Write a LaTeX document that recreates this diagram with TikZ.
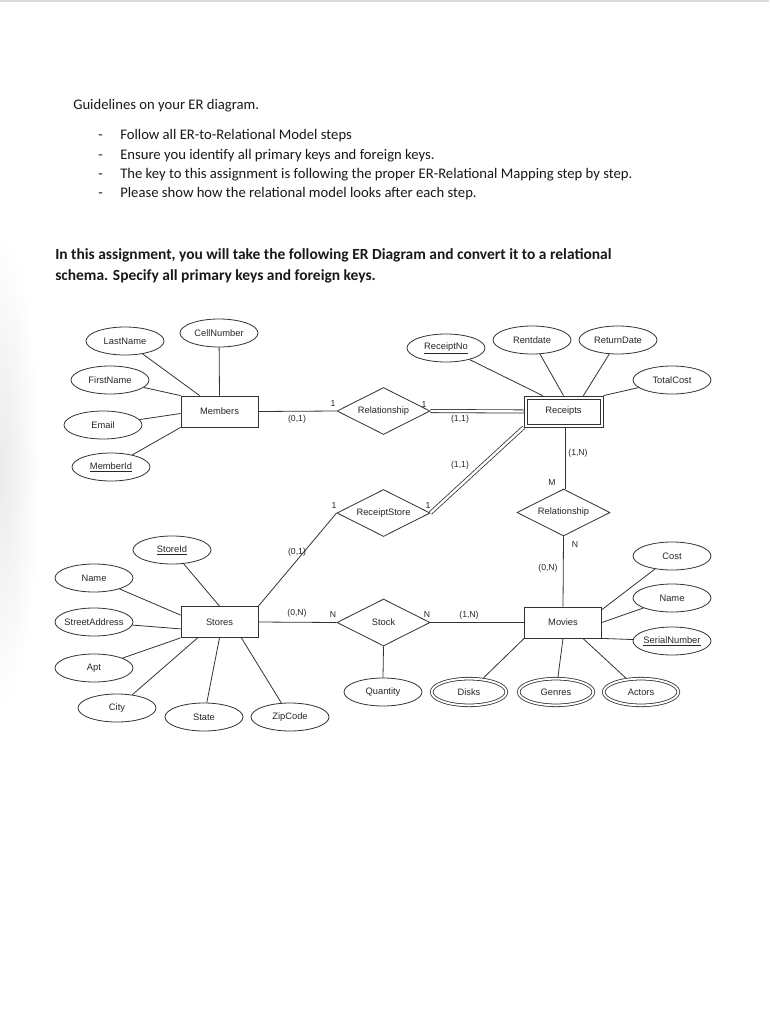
\documentclass[tikz,border=0pt]{standalone}
\usepackage{fontspec}
\setmainfont{Carlito}
\newfontfamily\arial{Liberation Sans}
\usetikzlibrary{shapes.geometric,calc,backgrounds}
\newcommand\zw[1]{\makebox[0pt]{#1}}
\begin{document}
\begin{tikzpicture}[x=0.75pt,y=-0.75pt,
 txt/.style={anchor=base west, inner sep=0, font=\fontsize{11}{13}\selectfont, text=black!90},
 btxt/.style={txt, font=\fontsize{11.6}{13}\selectfont\bfseries},
 er/.style={draw=black!80, line width=0.6pt, fill=white, inner sep=0, font=\arial\fontsize{7}{8}\selectfont, text=black!85},
 attr/.style={er, ellipse, minimum width=58.5pt, minimum height=21pt},
 mattr/.style={attr, double, double distance=1.4pt, minimum width=56pt, minimum height=20pt},
 ent/.style={er, rectangle, minimum width=57.75pt, minimum height=23.25pt},
 rel/.style={er, diamond, aspect=2, minimum width=69.75pt, minimum height=35.25pt},
 lbl/.style={inner sep=0, font=\arial\fontsize{6.5}{7}\selectfont, text=black!85},
 con/.style={draw=black!80, line width=0.6pt},
 dcon/.style={con, double, double distance=1.8pt},
]
\useasboundingbox (0,0) rectangle (769,1024);
\begin{scope}[on background layer]
\fill[white] (0,0) rectangle (769,1024);
\shade[inner color=black!8, outer color=white] (0,470) ellipse [x radius=40, y radius=240];
\draw[gray!30, line width=1pt] (0,1) -- (769,1);
\end{scope}

% ---- heading text
\node[txt] (g0) at (73,109) {Guidelines on your ER diagram.};
\node[txt] (d1) at (98,139) {-};
\node[txt] (t1) at (120,139) {Follow all ER-to-Relational Model steps};
\node[txt] (d2) at (98,159) {-};
\node[txt] (t2) at (120,159) {Ensure you identify all primary keys and foreign keys.};
\node[txt] (d3) at (98,178) {-};
\node[txt] (t3) at (120,178) {The key to this assignment is following the proper ER-Relational Mapping step by step.};
\node[txt] (d4) at (98,197) {-};
\node[txt] (t4) at (120,197) {Please show how the relational model looks after each step.};
\node[btxt] (b1) at (55,259) {In this assignment, you will take the following ER Diagram and convert it to a relational};
\node[btxt] (b2) at (55,280) {schema. Specify all primary keys and foreign keys.};

% ---- entities and relationships
\node[ent] (Members) at (219.5,411.5) {\zw{Members}};
\node[ent, minimum width=59.25pt] (Receipts) at (563.5,411.5) {\zw{Receipts}};
\draw[con] ($(Receipts.north west)+(3.5,3.5)$) rectangle ($(Receipts.south east)+(-3.5,-3.5)$);
\node[ent] (Stores) at (219.5,622) {\zw{Stores}};
\node[ent] (Movies) at (563,622.5) {\zw{Movies}};
\node[rel] (Rel1) at (383.5,411) {\zw{Relationship}};
\node[rel] (Rel2) at (563.5,512.5) {\zw{Relationship}};
\node[rel] (RS) at (383.5,513) {\zw{ReceiptStore}};
\node[rel] (Stock) at (383.5,622.5) {\zw{Stock}};

% ---- attributes
\node[attr] (LastName) at (125,341) {\zw{LastName}};
\node[attr] (CellNumber) at (219,333) {\zw{CellNumber}};
\node[attr] (FirstName) at (110,380) {\zw{FirstName}};
\node[attr] (Email) at (103,425) {\zw{Email}};
\node[attr] (MemberId) at (111,467) {\zw{\underline{MemberId}}};
\node[attr] (ReceiptNo) at (446,348) {\zw{\underline{ReceiptNo}}};
\node[attr] (Rentdate) at (532,340) {\zw{Rentdate}};
\node[attr] (ReturnDate) at (618,340) {\zw{ReturnDate}};
\node[attr] (TotalCost) at (672,380) {\zw{TotalCost}};
\node[attr] (Cost) at (672,556) {\zw{Cost}};
\node[attr] (MName) at (672,598) {\zw{Name}};
\node[attr] (SerialNumber) at (672,641) {\zw{\underline{SerialNumber}}};
\node[mattr] (Disks) at (469,692) {\zw{Disks}};
\node[mattr] (Genres) at (556,692) {\zw{Genres}};
\node[mattr] (Actors) at (641,692) {\zw{Actors}};
\node[attr] (Quantity) at (383,692) {\zw{Quantity}};
\node[attr] (StoreId) at (172,550) {\zw{\underline{StoreId}}};
\node[attr] (SName) at (94,578) {\zw{Name}};
\node[attr] (StreetAddress) at (94,622) {\zw{StreetAddress}};
\node[attr] (Apt) at (94,668) {\zw{Apt}};
\node[attr] (City) at (117,708) {\zw{City}};
\node[attr] (State) at (204,717) {\zw{State}};
\node[attr] (ZipCode) at (290,717) {\zw{ZipCode}};

% ---- connectors
\begin{scope}[on background layer]
\draw[con] (LastName) -- ($(Members.north west)+(19,0)$);
\draw[con] (CellNumber) -- (Members.north);
\draw[con] (FirstName) -- (Members.north west);
\draw[con] (Email) -- ($(Members.west)+(0,2)$);
\draw[con] (MemberId) -- (Members.south west);
\draw[con] (ReceiptNo) -- ($(Receipts.north west)+(19,0)$);
\draw[con] (Rentdate) -- (Receipts.north);
\draw[con] (ReturnDate) -- ($(Receipts.north east)+(-20,0)$);
\draw[con] (TotalCost) -- (Receipts.north east);
\draw[con] (Cost) -- ($(Movies.north east)+(0,3)$);
\draw[con] (MName) -- (Movies.east);
\draw[con] (SerialNumber) -- (Movies.south east);
\draw[con] (Disks) -- (Movies.south west);
\draw[con] (Genres) -- (Movies.south);
\draw[con] (Actors) -- ($(Movies.south east)+(-19,0)$);
\draw[con] (StoreId) -- (Stores.north);
\draw[con] (SName) -- ($(Stores.north west)+(0,9)$);
\draw[con] (StreetAddress) -- ($(Stores.south west)+(0,-9)$);
\draw[con] (Apt) -- (Stores.south west);
\draw[con] (City) -- ($(Stores.south west)+(17,0)$);
\draw[con] (State) -- (Stores.south);
\draw[con] (ZipCode) -- ($(Stores.south east)+(-17,0)$);
\draw[con] (Stock.south) -- (Quantity.north);
\draw[con] (Members.east) -- (Rel1.west);
\draw[dcon] (Rel1.east) -- (Receipts.west);
\draw[dcon] (Receipts.south) -- (Rel2.north);
\draw[con] (Rel2.south) -- (Movies.north);
\draw[dcon] (RS.east) -- (Receipts.south west);
\draw[con] (RS.west) -- (Stores.north east);
\draw[con] (Stores.east) -- (Stock.west);
\draw[con] (Stock.east) -- (Movies.west);
\end{scope}

% ---- cardinality labels
\node[lbl] (l1) at (333,404) {1};
\node[lbl] (l2) at (424,405) {1};
\node[lbl] (l3) at (297,419) {(0,1)};
\node[lbl] (l4) at (460,419) {(1,1)};
\node[lbl] (l5) at (578,453) {(1,N)};
\node[lbl] (l6) at (552,483) {M};
\node[lbl] (l7) at (575,545) {N};
\node[lbl] (l8) at (548,568) {(0,N)};
\node[lbl] (l9) at (460,465) {(1,1)};
\node[lbl] (l10) at (334,506) {1};
\node[lbl] (l11) at (428,506) {1};
\node[lbl] (l12) at (297,552) {(0,1)};
\node[lbl] (l13) at (297,613) {(0,N)};
\node[lbl] (l14) at (333,615) {N};
\node[lbl] (l15) at (427,615) {N};
\node[lbl] (l16) at (469,615) {(1,N)};
\end{tikzpicture}
\end{document}
